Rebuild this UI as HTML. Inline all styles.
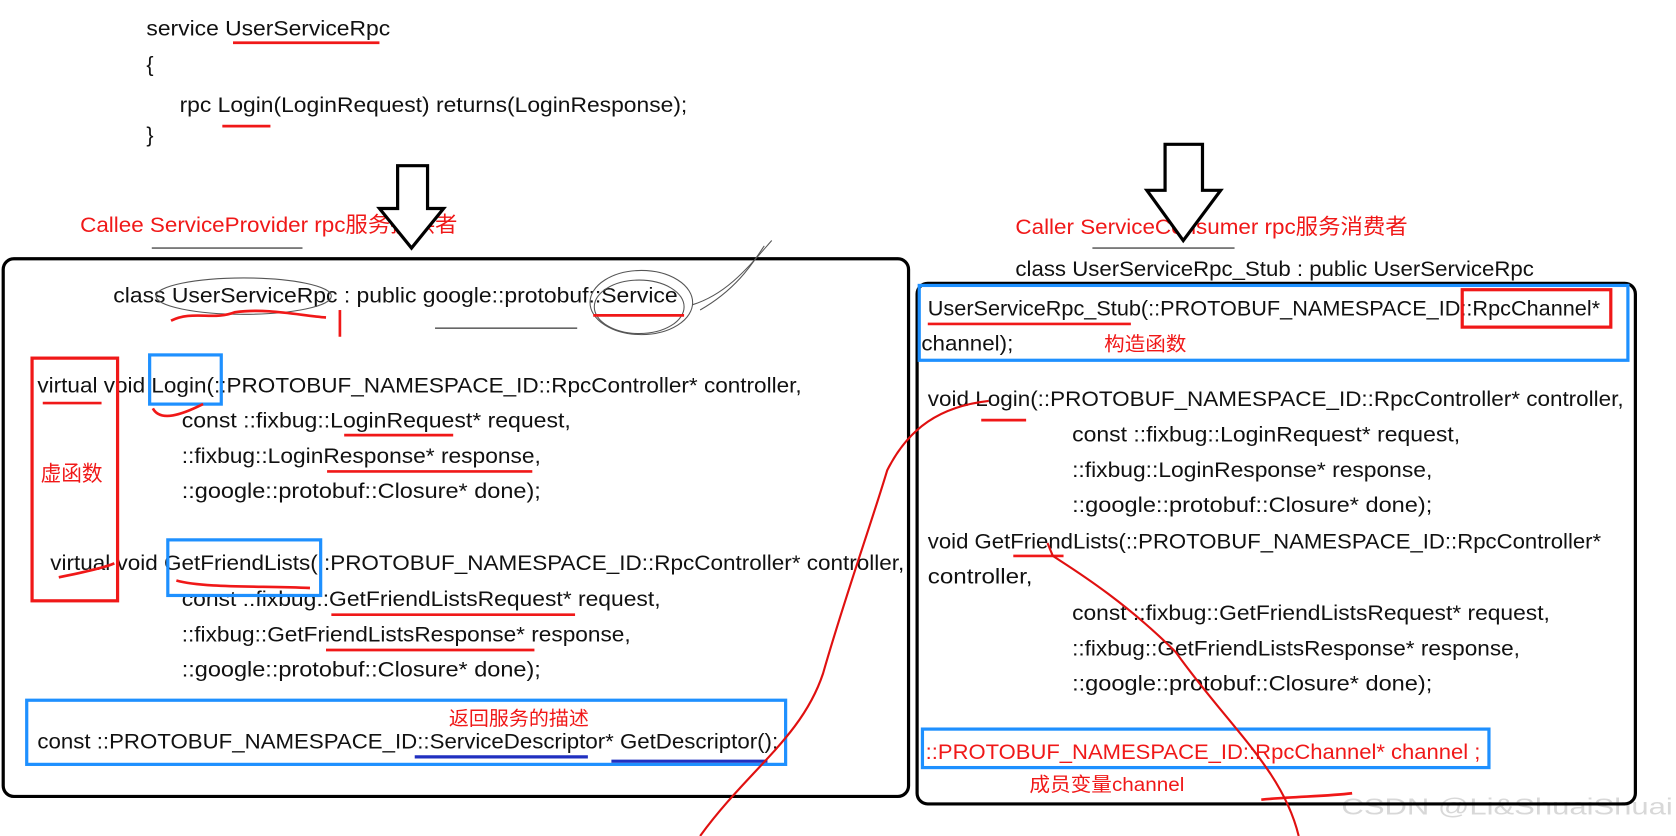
<!DOCTYPE html>
<html><head><meta charset="utf-8"><style>
html,body{margin:0;padding:0;background:#fff;}
svg{display:block;}
text{font-family:"Liberation Sans","Noto Sans CJK SC",sans-serif;font-size:20px;fill:#111;}
.r{fill:#f01818;}
</style></head><body>
<svg width="1676" height="836" viewBox="0 0 1568 782" preserveAspectRatio="none" xmlns="http://www.w3.org/2000/svg">
<g lengthAdjust="spacingAndGlyphs">
<text x="137" y="33" textLength="228" lengthAdjust="spacingAndGlyphs">service  UserServiceRpc</text>
<text x="137" y="67">{</text>
<text x="168" y="105" textLength="475" lengthAdjust="spacingAndGlyphs">rpc Login(LoginRequest) returns(LoginResponse);</text>
<text x="137" y="133">}</text>
<text class="r" x="75" y="217" textLength="353" lengthAdjust="spacingAndGlyphs">Callee ServiceProvider rpc服务提供者</text>
<text class="r" x="950" y="219" textLength="367" lengthAdjust="spacingAndGlyphs">Caller ServiceConsumer rpc服务消费者</text>
<text x="950" y="258" textLength="485" lengthAdjust="spacingAndGlyphs">class UserServiceRpc_Stub : public UserServiceRpc</text>

<text x="106" y="283" textLength="528" lengthAdjust="spacingAndGlyphs">class UserServiceRpc : public google::protobuf::Service</text>
<text x="35" y="367" textLength="715" lengthAdjust="spacingAndGlyphs">virtual void Login(::PROTOBUF_NAMESPACE_ID::RpcController* controller,</text>
<text x="170" y="400" textLength="364" lengthAdjust="spacingAndGlyphs">const ::fixbug::LoginRequest* request,</text>
<text x="170" y="433" textLength="336" lengthAdjust="spacingAndGlyphs">::fixbug::LoginResponse* response,</text>
<text x="170" y="466" textLength="336" lengthAdjust="spacingAndGlyphs">::google::protobuf::Closure* done);</text>
<text class="r" x="38" y="450" textLength="58" lengthAdjust="spacingAndGlyphs">虚函数</text>
<text x="47" y="533" textLength="799" lengthAdjust="spacingAndGlyphs">virtual void GetFriendLists(::PROTOBUF_NAMESPACE_ID::RpcController* controller,</text>
<text x="170" y="567" textLength="448" lengthAdjust="spacingAndGlyphs">const ::fixbug::GetFriendListsRequest* request,</text>
<text x="170" y="600" textLength="420" lengthAdjust="spacingAndGlyphs">::fixbug::GetFriendListsResponse* response,</text>
<text x="170" y="633" textLength="336" lengthAdjust="spacingAndGlyphs">::google::protobuf::Closure* done);</text>
<text class="r" x="420" y="678" textLength="131" lengthAdjust="spacingAndGlyphs" style="font-size:18px">返回服务的描述</text>
<text x="35" y="700" textLength="693" lengthAdjust="spacingAndGlyphs">const ::PROTOBUF_NAMESPACE_ID::ServiceDescriptor* GetDescriptor();</text>

<text x="868" y="295" textLength="629" lengthAdjust="spacingAndGlyphs">UserServiceRpc_Stub(::PROTOBUF_NAMESPACE_ID::RpcChannel*</text>
<text x="862" y="328" textLength="86" lengthAdjust="spacingAndGlyphs">channel);</text>
<text class="r" x="1033" y="328" textLength="77" lengthAdjust="spacingAndGlyphs" style="font-size:18px">构造函数</text>
<text x="868" y="380" textLength="651" lengthAdjust="spacingAndGlyphs">void Login(::PROTOBUF_NAMESPACE_ID::RpcController* controller,</text>
<text x="1003" y="413" textLength="363" lengthAdjust="spacingAndGlyphs">const ::fixbug::LoginRequest* request,</text>
<text x="1003" y="446" textLength="337" lengthAdjust="spacingAndGlyphs">::fixbug::LoginResponse* response,</text>
<text x="1003" y="479" textLength="337" lengthAdjust="spacingAndGlyphs">::google::protobuf::Closure* done);</text>
<text x="868" y="513" textLength="630" lengthAdjust="spacingAndGlyphs">void GetFriendLists(::PROTOBUF_NAMESPACE_ID::RpcController*</text>
<text x="868" y="546" textLength="98" lengthAdjust="spacingAndGlyphs">controller,</text>
<text x="1003" y="580" textLength="447" lengthAdjust="spacingAndGlyphs">const ::fixbug::GetFriendListsRequest* request,</text>
<text x="1003" y="613" textLength="419" lengthAdjust="spacingAndGlyphs">::fixbug::GetFriendListsResponse* response,</text>
<text x="1003" y="646" textLength="337" lengthAdjust="spacingAndGlyphs">::google::protobuf::Closure* done);</text>
<text class="r" x="866" y="710" textLength="519" lengthAdjust="spacingAndGlyphs">::PROTOBUF_NAMESPACE_ID::RpcChannel* channel ;</text>
<text class="r" x="963" y="740" textLength="145" lengthAdjust="spacingAndGlyphs" style="font-size:18px">成员变量channel</text>
<text x="1255" y="762" textLength="310" lengthAdjust="spacingAndGlyphs" style="font-size:22px;fill:#d8d8d8">CSDN @Li&amp;ShuaiShuai</text>
</g>

<!-- boxes -->
<rect x="3" y="242" width="847" height="503" rx="10" fill="none" stroke="#000" stroke-width="3"/>
<rect x="858" y="265" width="672" height="487" rx="10" fill="none" stroke="#000" stroke-width="3"/>
<rect x="30" y="335" width="80" height="227" fill="none" stroke="#f01818" stroke-width="3"/>
<rect x="140" y="332" width="67" height="46" fill="none" stroke="#1e90ff" stroke-width="3"/>
<rect x="157" y="505" width="143" height="52" fill="none" stroke="#1e90ff" stroke-width="3"/>
<rect x="25" y="655" width="710" height="60" fill="none" stroke="#1e90ff" stroke-width="3"/>
<rect x="860" y="267" width="663" height="70" fill="none" stroke="#1e90ff" stroke-width="3"/>
<rect x="1368" y="271" width="139" height="35" fill="none" stroke="#f01818" stroke-width="3"/>
<rect x="863" y="682" width="530" height="36" fill="none" stroke="#1e90ff" stroke-width="3"/>

<!-- arrows -->
<path d="M372 155 H400 V195 H415 L385 232 L355 195 H372 Z" fill="#fff" stroke="#000" stroke-width="3"/>
<path d="M1090 135 H1125 V178 H1142 L1107 225 L1073 178 H1090 Z" fill="#fff" stroke="#000" stroke-width="3"/>

<!-- gray lines -->
<g stroke="#666" stroke-width="1.5">
<line x1="142" y1="232" x2="283" y2="232"/>
<line x1="1022" y1="232" x2="1155" y2="232"/>
<line x1="407" y1="307" x2="540" y2="307"/>
</g>
<g fill="none" stroke="#555" stroke-width="1">
<ellipse cx="228" cy="277" rx="82" ry="17"/>
<ellipse cx="600" cy="283" rx="48" ry="30"/>
<ellipse cx="598" cy="287" rx="42" ry="25"/>
<path d="M648 285 C680 275 700 250 722 225"/>
<path d="M655 290 C690 270 705 245 715 230"/>
</g>

<!-- red underlines -->
<g stroke="#f01818" stroke-width="2.5" fill="none">
<path d="M218 40 H355"/>
<path d="M208 118 H253"/>
<path d="M160 300 C180 290 200 300 220 292 C250 288 280 295 305 297"/>
<path d="M318 290 V315"/>
<path d="M555 295 H640"/>
<path d="M40 377 H95"/>
<path d="M143 382 C150 395 170 388 190 378"/>
<path d="M322 407 H424"/>
<path d="M306 441 H498"/>
<path d="M55 540 C80 535 100 530 107 527"/>
<path d="M165 543 C190 550 240 548 290 550"/>
<path d="M310 575 H538"/>
<path d="M305 608 H500"/>
<path d="M868 303 H1058"/>
<path d="M918 393 H960"/>
<path d="M948 520 H995"/>
<path d="M1180 748 C1210 745 1240 745 1265 742"/>
</g>
<g stroke="#2030c0" stroke-width="3" fill="none">
<path d="M388 708 H550"/>
<path d="M572 712 H718"/>
</g>
<!-- red curves -->
<g stroke="#e01010" stroke-width="2" fill="none">
<path d="M655 782 C700 720 750 690 770 630 C790 560 815 490 830 440 C850 400 880 380 925 375"/>
<path d="M1215 782 C1200 720 1150 680 1100 610 C1050 560 1000 530 985 520 L980 508"/>
</g>
</svg>
</body></html>
